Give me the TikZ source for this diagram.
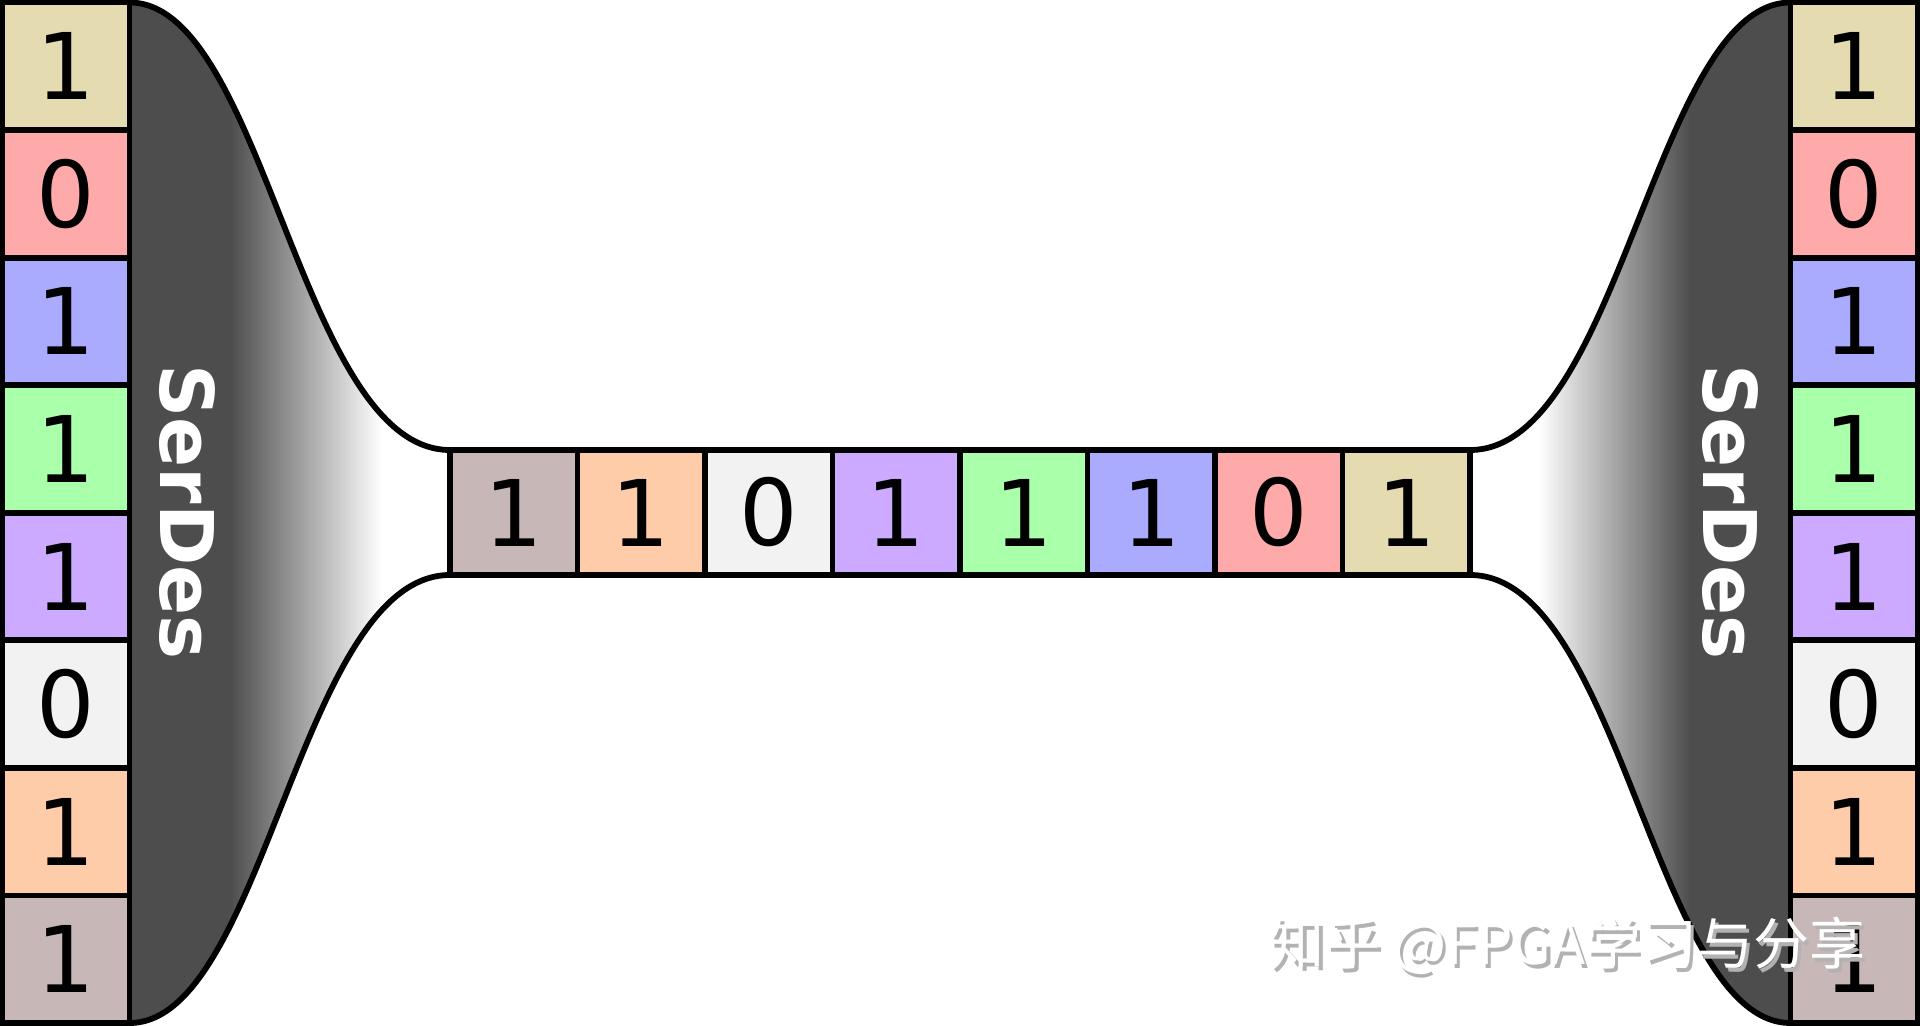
\documentclass[tikz,border=0pt]{standalone}
\usepackage{fontspec}
\setmainfont{DejaVu Sans}
\newfontfamily\cjk{Noto Sans CJK SC}
\definecolor{cbeige}{RGB}{229,219,176}
\definecolor{cpink}{RGB}{255,170,170}
\definecolor{cblue}{RGB}{170,170,255}
\definecolor{cgreen}{RGB}{170,255,170}
\definecolor{cpurple}{RGB}{204,170,255}
\definecolor{clight}{RGB}{242,242,242}
\definecolor{cpeach}{RGB}{255,204,170}
\definecolor{ctaupe}{RGB}{200,183,183}
\definecolor{cdark}{RGB}{77,77,77}
\begin{document}
\begin{tikzpicture}[x=0.5pt,y=-0.5pt,
  bitcell/.style={draw=black, line width=2.9pt, inner sep=0pt, outer sep=0pt,
    font=\fontsize{46pt}{46pt}\selectfont},
  colcell/.style={bitcell, minimum width=63.5pt, minimum height=63.78pt},
  chancell/.style={bitcell, minimum width=63.75pt, minimum height=62.5pt},
  edgeline/.style={line width=2.9pt, line join=round},
  serdes/.style={text=white, rotate=-90, inner sep=0pt,
    font=\fontsize{37pt}{37pt}\selectfont\bfseries},
  wmark/.style={inner sep=0pt, font=\cjk\fontsize{28pt}{28pt}\selectfont}
]
\useasboundingbox (0,0) rectangle (1920,1026);
\fill[white] (0,0) rectangle (1920,1026);

% left gray funnel
\begin{scope}
  \clip (130,2.5) .. controls (265,2.5) and (300,450) .. (450,450) -- (450,575)
        .. controls (300,575) and (265,1023) .. (130,1023) -- cycle;
  \fill[cdark] (126,-5) rectangle (232,1031);
  \shade[left color=cdark, right color=white] (230,-5) rectangle (382,1031);
\end{scope}
% right gray funnel
\begin{scope}
  \clip (1790,2.5) .. controls (1655,2.5) and (1620,450) .. (1470,450) -- (1470,575)
        .. controls (1620,575) and (1655,1023) .. (1790,1023) -- cycle;
  \fill[cdark] (1688,-5) rectangle (1794,1031);
  \shade[left color=white, right color=cdark] (1538,-5) rectangle (1690,1031);
\end{scope}

% columns
\foreach \c/\b [count=\i] in {cbeige/1,cpink/0,cblue/1,cgreen/1,cpurple/1,clight/0,cpeach/1,ctaupe/1} {
  \node[colcell, fill=\c] (L\i) at (66, {2.5+127.5625*(\i-0.5)}) {\b};
  \node[colcell, fill=\c] (R\i) at (1854, {2.5+127.5625*(\i-0.5)}) {\b};
}
% channel
\foreach \c/\b [count=\j] in {ctaupe/1,cpeach/1,clight/0,cpurple/1,cgreen/1,cblue/1,cpink/0,cbeige/1} {
  \node[chancell, fill=\c] (C\j) at ({450+127.5*(\j-0.5)}, 512.5) {\b};
}

% outlines
\draw[edgeline] (L1.north east) .. controls +(135,0) and +(-150,0) .. (C1.north west)
  -- (C8.north east) .. controls +(150,0) and +(-135,0) .. (R1.north west);
\draw[edgeline] (L8.south east) .. controls +(135,0) and +(-150,0) .. (C1.south west)
  -- (C8.south east) .. controls +(150,0) and +(-135,0) .. (R8.south west);

% labels
\node[serdes] (SL) at (187.5,512) {SerDes};
\node[serdes] (SR) at (1730,512) {SerDes};

% watermark (white text with grey drop shadow)
\node[wmark, text=gray!60] (wm0) at (1570.5,949.5) {知乎 @FPGA学习与分享};
\node[wmark, text=white] (wm) at (1567,946) {知乎 @FPGA学习与分享};
\end{tikzpicture}
\end{document}
